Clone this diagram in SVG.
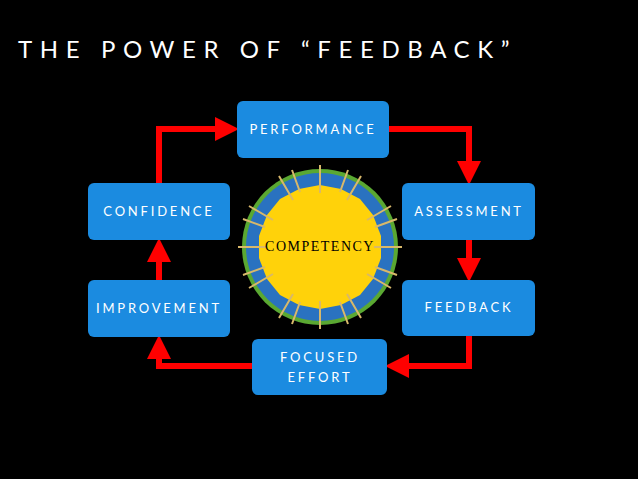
<svg xmlns="http://www.w3.org/2000/svg" width="638" height="479" viewBox="0 0 638 479">
<defs>
<style>
.box{fill:#1b8be0;}
.t{font-family:"Lato","Liberation Sans",sans-serif;font-size:13px;fill:#fff;letter-spacing:2.8px;text-anchor:middle;}
.c{fill:none;stroke:#f00;stroke-width:6;}
</style>
<marker id="ah" markerWidth="4" markerHeight="4" refX="2" refY="2" orient="auto" markerUnits="strokeWidth"><path d="M0,0L4,2L0,4Z" fill="#f00"/></marker>
</defs>
<rect width="638" height="479" fill="#000"/>
<text x="18" y="58" font-family="Lato,'Liberation Sans',sans-serif" font-size="24" fill="#fff" letter-spacing="7.6">THE POWER OF “FEEDBACK”</text>
<g id="connectors">
<path class="c" d="M159,183V129H227" marker-end="url(#ah)"/>
<path class="c" d="M389,129H469V173" marker-end="url(#ah)"/>
<path class="c" d="M469,240V270" marker-end="url(#ah)"/>
<path class="c" d="M469,336V366H397" marker-end="url(#ah)"/>
<path class="c" d="M252,366H159V347" marker-end="url(#ah)"/>
<path class="c" d="M159,280V250" marker-end="url(#ah)"/>
</g>
<g id="competency">
<circle cx="320" cy="247" r="78" fill="#5aa832"/>
<circle cx="320" cy="247" r="74" fill="#2a72c0"/>
<polygon fill="#ffd20a" points="320,185 341,189 360,199 373,215 381,236 381,258 373,279 360,295 341,305 320,309 299,305 280,295 267,279 259,258 259,236 267,215 280,199 299,189"/>
<g stroke="#d8b86a" stroke-width="2">
<path d="M320,165V193M320,301V329M238,247H266M374,247H402M361,176L347,200M279,318L293,294M279,176L293,200M361,318L347,294M391,206L367,220M249,288L273,274M249,206L273,220M391,288L367,274M348,170L340,192M292,324L300,302M292,170L300,192M348,324L340,302M397,219L375,227M243,275L265,267M243,219L265,227M397,275L375,267"/>
</g>
<text x="320" y="251" font-family="'Liberation Serif',serif" font-size="14" letter-spacing="1.5" text-anchor="middle" fill="#000">COMPETENCY</text>
</g>
<g id="performance"><rect class="box" x="237" y="101" width="152" height="57" rx="6"/><text class="t" x="313" y="134">PERFORMANCE</text></g>
<g id="confidence"><rect class="box" x="88" y="183" width="142" height="57" rx="6"/><text class="t" x="159" y="216">CONFIDENCE</text></g>
<g id="assessment"><rect class="box" x="402" y="183" width="133" height="57" rx="6"/><text class="t" x="469" y="216">ASSESSMENT</text></g>
<g id="improvement"><rect class="box" x="88" y="280" width="142" height="57" rx="6"/><text class="t" x="159" y="313">IMPROVEMENT</text></g>
<g id="feedback"><rect class="box" x="402" y="280" width="133" height="56" rx="6"/><text class="t" x="469" y="312">FEEDBACK</text></g>
<g id="focused"><rect class="box" x="252" y="339" width="135" height="56" rx="6"/><text class="t" x="320" y="362">FOCUSED</text><text class="t" x="320" y="382">EFFORT</text></g>
</svg>
